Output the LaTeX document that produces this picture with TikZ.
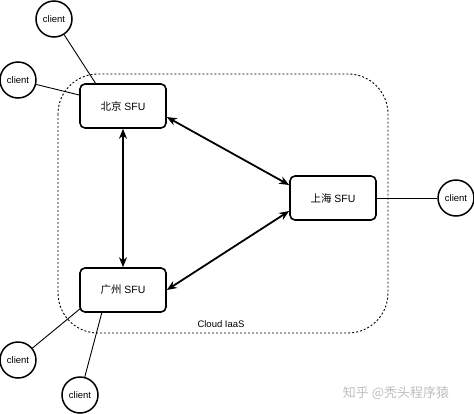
\documentclass[tikz,border=0pt]{standalone}
\usepackage{fontspec}
\setmainfont{Liberation Sans}
\newfontfamily\cjk{Noto Sans CJK SC}
\usetikzlibrary{arrows.meta}
\begin{document}
\begin{tikzpicture}[x=1pt,y=-1pt,
  sfu/.style={draw,rounded corners=5pt,line width=1.6pt,minimum width=86pt,minimum height=44pt,font=\fontsize{10.5}{12}\selectfont},
  cli/.style={draw,circle,line width=1.5pt,minimum size=36pt,inner sep=0pt,fill=white,font=\fontsize{9.5}{11}\selectfont},
  link/.style={line width=0.9pt},
  dbl/.style={line width=1.8pt,{Stealth[length=10pt,width=8pt]}-{Stealth[length=10pt,width=8pt]}}]
\path[use as bounding box] (0,0) rectangle (474,413);
\clip (0,0) rectangle (474,413);
\fill[white] (0,0) rectangle (474,413);
\draw[dashed,dash pattern=on 2pt off 2pt,line width=0.9pt,rounded corners=40pt] (58,74) rectangle (388,333);
\node[font=\fontsize{9.5}{11}\selectfont] (iaas) at (221,324) {Cloud IaaS};
\node[sfu] (bj) at (123,106) {{\cjk 北京} SFU};
\node[sfu] (sh) at (333,198) {{\cjk 上海} SFU};
\node[sfu] (gz) at (123,290) {{\cjk 广州} SFU};
\node[cli] (c1) at (54,19) {client};
\node[cli] (c2) at (18,80) {client};
\node[cli] (c3) at (456,198) {client};
\node[cli] (c4) at (18,360) {client};
\node[cli] (c5) at (80,395) {client};
\draw[link] (c1) -- (96,84);
\draw[link] (c2) -- (bj.west |- 0,95);
\draw[link] (c3) -- (sh);
\draw[link] (c4) -- (81,308);
\draw[link] (c5) -- (102,312);
\draw[dbl] (bj) -- (gz);
\draw[dbl] (bj.east |- 0,117) -- (sh.west |- 0,185);
\draw[dbl] (gz.east |- 0,290) -- (sh.west |- 0,211);
\node[text=black!25,font=\cjk\fontsize{13}{15}\selectfont] (wm) at (396,393) {知乎 @秃头程序猿};
\end{tikzpicture}
\end{document}
